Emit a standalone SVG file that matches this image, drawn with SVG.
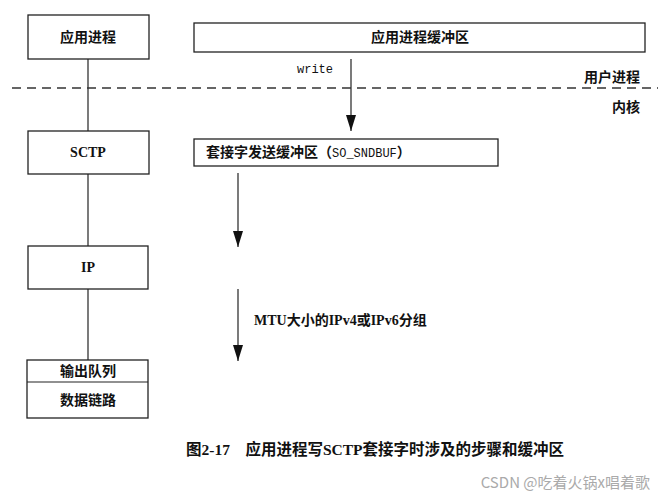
<svg xmlns="http://www.w3.org/2000/svg" width="668" height="500" viewBox="0 0 668 500">
<defs>
<style>
.b{fill:#fff;stroke:#222;stroke-width:1.3}
.t{font-family:"Liberation Serif","Noto Sans CJK SC",serif;font-size:14px;font-weight:bold;fill:#111;text-anchor:middle}
.m{font-family:"Liberation Mono",monospace;font-size:12px;fill:#111}
.l{stroke:#222;stroke-width:1.2;fill:none}
</style>
<marker id="a" markerWidth="10" markerHeight="16" refX="5" refY="16" orient="0" markerUnits="userSpaceOnUse"><path d="M0,0 L10,0 L5,16z" fill="#111"/></marker>
</defs>
<rect width="668" height="500" fill="#fff"/>
<g id="connectors">
<line class="l" x1="88" y1="59" x2="88" y2="131"/>
<line class="l" x1="88" y1="174" x2="88" y2="246"/>
<line class="l" x1="88" y1="289" x2="88" y2="360"/>
<line class="l" x1="351" y1="59" x2="351" y2="131" marker-end="url(#a)"/>
<line class="l" x1="238" y1="173" x2="238" y2="247" marker-end="url(#a)"/>
<line class="l" x1="238" y1="289" x2="238" y2="361" marker-end="url(#a)"/>
<line x1="12" y1="88" x2="658" y2="88" stroke="#333" stroke-width="1.3" stroke-dasharray="9,6"/>
<text class="m" x="297" y="73">write</text>
<text class="t" x="254" y="325" style="text-anchor:start">MTU大小的IPv4或IPv6分组</text>
<text class="t" x="640" y="82" style="text-anchor:end">用户进程</text>
<text class="t" x="640" y="112" style="text-anchor:end">内核</text>
</g>
<g id="app"><rect class="b" x="28" y="15" width="121" height="44"/><text class="t" x="88" y="42">应用进程</text></g>
<g id="appbuf"><rect class="b" x="194" y="23" width="451" height="29"/><text class="t" x="420" y="42">应用进程缓冲区</text></g>
<g id="sctp"><rect class="b" x="28" y="131" width="121" height="43"/><text class="t" x="88" y="157">SCTP</text></g>
<g id="sockbuf"><rect class="b" x="194" y="139" width="304" height="27"/><text class="t" x="206" y="157" style="text-anchor:start">套接字发送缓冲区（<tspan class="m" style="font-size:12px;font-weight:normal">SO_SNDBUF</tspan>）</text></g>
<g id="ip"><rect class="b" x="28" y="246" width="120" height="43"/><text class="t" x="88" y="272">IP</text></g>
<g id="dl"><rect class="b" x="27" y="360" width="121" height="58"/><line class="l" x1="27" y1="382" x2="148" y2="382"/><text class="t" x="88" y="376">输出队列</text><text class="t" x="88" y="405">数据链路</text></g>
<text class="t" x="375" y="455" style="font-size:15.5px">图2-17　应用进程写SCTP套接字时涉及的步骤和缓冲区</text>
<text x="650" y="488" style="font-family:'Noto Sans CJK SC',sans-serif;font-size:15px;fill:#aaa;text-anchor:end">CSDN @吃着火锅x唱着歌</text>
</svg>
